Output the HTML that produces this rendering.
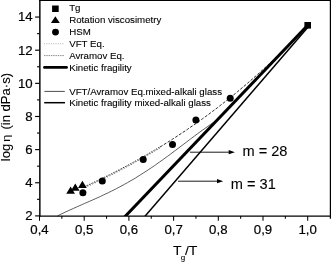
<!DOCTYPE html><html><head><meta charset="utf-8"><style>html,body{margin:0;padding:0;background:#fff;overflow:hidden}svg{display:block}</style></head><body><svg width="331" height="262" viewBox="0 0 331 262" font-family="'Liberation Sans', Arial, sans-serif" fill="#000" >
<rect width="331" height="262" fill="#fff"/>
<polyline points="57.6,215.9 60.3,214.5 63.0,213.2 65.7,211.9 68.3,210.7 71.0,209.5 73.7,208.3 76.4,207.1 79.1,205.9 81.8,204.7 84.4,203.5 87.1,202.4 89.8,201.2 92.5,200.0 95.2,198.8 97.9,197.6 100.6,196.4 103.2,195.1 105.9,193.8 108.6,192.6 111.3,191.2 114.0,189.9 116.7,188.5 119.3,187.1 122.0,185.7 124.7,184.2 127.4,182.7 130.1,181.1 132.8,179.6 135.5,178.0 138.1,176.3 140.8,174.6 143.5,172.9 146.2,171.2 148.9,169.4 151.6,167.6 154.3,165.8 156.9,163.9 159.6,162.0 162.3,160.1 165.0,158.1 167.7,156.2 170.4,154.2 173.0,152.2 175.7,150.2 178.4,148.2 181.1,146.1 183.8,144.1 186.5,142.1 189.2,140.0 191.8,138.0 194.5,136.0 197.2,134.0 199.9,132.0 202.6,130.1 205.3,128.2 207.9,126.3 210.6,124.4 213.3,122.6 216.0,120.9" fill="none" stroke="#333" stroke-width="0.8"/>
<polyline points="84.0,186.9 85.9,186.0 87.9,185.1 89.8,184.2 91.8,183.3 93.7,182.4 95.7,181.5 97.6,180.5 99.6,179.6 101.5,178.7 103.5,177.7 105.4,176.8 107.4,175.8 109.3,174.8 111.3,173.9 113.2,172.9 115.2,171.9 117.1,170.9 119.1,169.9 121.0,168.9 123.0,167.8 124.9,166.8 126.9,165.8 128.8,164.7 130.8,163.7 132.7,162.6 134.7,161.5 136.6,160.4 138.6,159.4 140.5,158.3 142.5,157.2 144.4,156.0 146.4,154.9 148.3,153.8 150.3,152.7 152.2,151.5 154.2,150.3 156.1,149.2 158.1,148.0 160.0,146.8" fill="none" stroke="#222" stroke-width="0.95" stroke-dasharray="1.5 1.2"/>
<polyline points="84.0,188.0 85.9,187.1 87.9,186.2 89.8,185.3 91.8,184.4 93.7,183.5 95.7,182.6 97.6,181.6 99.6,180.7 101.5,179.8 103.5,178.8 105.4,177.9 107.4,176.9 109.3,175.9 111.3,175.0 113.2,174.0 115.2,173.0 117.1,172.0 119.1,171.0 121.0,170.0 123.0,168.9 124.9,167.9 126.9,166.9 128.8,165.8 130.8,164.8 132.7,163.7 134.7,162.6 136.6,161.5 138.6,160.5 140.5,159.4 142.5,158.3 144.4,157.1 146.4,156.0 148.3,154.9 150.3,153.8 152.2,152.6 154.2,151.4 156.1,150.3 158.1,149.1 160.0,147.9" fill="none" stroke="#555" stroke-width="0.95" stroke-dasharray="1.1 1.6" stroke-dashoffset="1.5"/>
<polyline points="160.0,147.0 162.5,145.5 165.0,143.9 167.5,142.4 170.0,140.8 172.5,139.2 175.0,137.6 177.5,135.9 180.0,134.3 182.5,132.6 185.0,131.0 187.5,129.3 190.0,127.5 192.5,125.8 195.0,124.1 197.6,122.3 200.1,120.5 202.6,118.7 205.1,116.9 207.6,115.1 210.1,113.2 212.6,111.3 215.1,109.5 217.6,107.6 220.1,105.6 222.6,103.7 225.1,101.7 227.6,99.7 230.1,97.7 232.6,95.7 235.1,93.7 237.6,91.6 240.1,89.5 242.6,87.4 245.1,85.3 247.6,83.2 250.1,81.0 252.6,78.8 255.1,76.6 257.6,74.4 260.1,72.2 262.6,69.9 265.1,67.6 267.6,65.3 270.1,63.0 272.7,60.6 275.2,58.2 277.7,55.8 280.2,53.4 282.7,51.0 285.2,48.5 287.7,46.0 290.2,43.5 292.7,41.0 295.2,38.5 297.7,35.9 300.2,33.3 302.7,30.7 305.2,28.0 307.7,25.3" fill="none" stroke="#222" stroke-width="0.95" stroke-dasharray="2.9 1.6"/>
<clipPath id="cp"><rect x="39.5" y="0" width="291" height="216"/></clipPath>
<g clip-path="url(#cp)">
<line x1="117.44" y1="224.49" x2="307.7" y2="25.3" stroke="#000" stroke-width="3.0"/>
<line x1="136.98" y1="225.53" x2="309.6" y2="25.3" stroke="#000" stroke-width="1.5"/>
</g>
<g stroke="#000" fill="none">
<line x1="39.85" y1="0" x2="39.85" y2="216.75" stroke-width="1.45"/>
<line x1="39.1" y1="216.0" x2="331" y2="216.0" stroke-width="1.25"/>
<line x1="39.1" y1="0.5" x2="331" y2="0.5" stroke-width="1.0"/>
<line x1="330.4" y1="0" x2="330.4" y2="218.8" stroke-width="1.2"/>
<line x1="35.1" y1="215.90" x2="39.5" y2="215.90" stroke-width="1.15"/>
<line x1="37.1" y1="199.33" x2="39.5" y2="199.33" stroke-width="1.15"/>
<line x1="35.1" y1="182.76" x2="39.5" y2="182.76" stroke-width="1.15"/>
<line x1="37.1" y1="166.19" x2="39.5" y2="166.19" stroke-width="1.15"/>
<line x1="35.1" y1="149.62" x2="39.5" y2="149.62" stroke-width="1.15"/>
<line x1="37.1" y1="133.05" x2="39.5" y2="133.05" stroke-width="1.15"/>
<line x1="35.1" y1="116.48" x2="39.5" y2="116.48" stroke-width="1.15"/>
<line x1="37.1" y1="99.91" x2="39.5" y2="99.91" stroke-width="1.15"/>
<line x1="35.1" y1="83.34" x2="39.5" y2="83.34" stroke-width="1.15"/>
<line x1="37.1" y1="66.77" x2="39.5" y2="66.77" stroke-width="1.15"/>
<line x1="35.1" y1="50.20" x2="39.5" y2="50.20" stroke-width="1.15"/>
<line x1="37.1" y1="33.63" x2="39.5" y2="33.63" stroke-width="1.15"/>
<line x1="35.1" y1="17.06" x2="39.5" y2="17.06" stroke-width="1.15"/>
<line x1="39.50" y1="216" x2="39.50" y2="220.8" stroke-width="1.05"/>
<line x1="61.85" y1="216" x2="61.85" y2="218.8" stroke-width="1.05"/>
<line x1="84.20" y1="216" x2="84.20" y2="220.8" stroke-width="1.05"/>
<line x1="106.55" y1="216" x2="106.55" y2="218.8" stroke-width="1.05"/>
<line x1="128.90" y1="216" x2="128.90" y2="220.8" stroke-width="1.05"/>
<line x1="151.25" y1="216" x2="151.25" y2="218.8" stroke-width="1.05"/>
<line x1="173.60" y1="216" x2="173.60" y2="220.8" stroke-width="1.05"/>
<line x1="195.95" y1="216" x2="195.95" y2="218.8" stroke-width="1.05"/>
<line x1="218.30" y1="216" x2="218.30" y2="220.8" stroke-width="1.05"/>
<line x1="240.65" y1="216" x2="240.65" y2="218.8" stroke-width="1.05"/>
<line x1="263.00" y1="216" x2="263.00" y2="220.8" stroke-width="1.05"/>
<line x1="285.35" y1="216" x2="285.35" y2="218.8" stroke-width="1.05"/>
<line x1="307.70" y1="216" x2="307.70" y2="220.8" stroke-width="1.05"/>
</g>
<text transform="translate(32.60 220.25) scale(1.09 1)" font-size="12.15" text-anchor="end" stroke="#000" stroke-width="0.18">2</text>
<text transform="translate(32.60 187.11) scale(1.09 1)" font-size="12.15" text-anchor="end" stroke="#000" stroke-width="0.18">4</text>
<text transform="translate(32.60 153.97) scale(1.09 1)" font-size="12.15" text-anchor="end" stroke="#000" stroke-width="0.18">6</text>
<text transform="translate(32.60 120.83) scale(1.09 1)" font-size="12.15" text-anchor="end" stroke="#000" stroke-width="0.18">8</text>
<text transform="translate(32.60 87.69) scale(1.09 1)" font-size="12.15" text-anchor="end" stroke="#000" stroke-width="0.18">10</text>
<text transform="translate(32.60 54.55) scale(1.09 1)" font-size="12.15" text-anchor="end" stroke="#000" stroke-width="0.18">12</text>
<text transform="translate(32.60 21.41) scale(1.09 1)" font-size="12.15" text-anchor="end" stroke="#000" stroke-width="0.18">14</text>
<text transform="translate(39.50 233.50) scale(1.09 1)" font-size="12.15" text-anchor="middle" stroke="#000" stroke-width="0.18">0,4</text>
<text transform="translate(84.20 233.50) scale(1.09 1)" font-size="12.15" text-anchor="middle" stroke="#000" stroke-width="0.18">0,5</text>
<text transform="translate(128.90 233.50) scale(1.09 1)" font-size="12.15" text-anchor="middle" stroke="#000" stroke-width="0.18">0,6</text>
<text transform="translate(173.60 233.50) scale(1.09 1)" font-size="12.15" text-anchor="middle" stroke="#000" stroke-width="0.18">0,7</text>
<text transform="translate(218.30 233.50) scale(1.09 1)" font-size="12.15" text-anchor="middle" stroke="#000" stroke-width="0.18">0,8</text>
<text transform="translate(263.00 233.50) scale(1.09 1)" font-size="12.15" text-anchor="middle" stroke="#000" stroke-width="0.18">0,9</text>
<text transform="translate(307.70 233.50) scale(1.09 1)" font-size="12.15" text-anchor="middle" stroke="#000" stroke-width="0.18">1,0</text>
<text transform="translate(69.20 11.30) scale(1.021 1)" font-size="9.5" text-anchor="start" stroke="#000" stroke-width="0.1">Tg</text>
<text transform="translate(69.20 23.20) scale(1.021 1)" font-size="9.5" text-anchor="start" stroke="#000" stroke-width="0.1">Rotation viscosimetry</text>
<text transform="translate(69.20 35.10) scale(1.021 1)" font-size="9.5" text-anchor="start" stroke="#000" stroke-width="0.1">HSM</text>
<text transform="translate(69.20 47.00) scale(1.021 1)" font-size="9.5" text-anchor="start" stroke="#000" stroke-width="0.1">VFT Eq.</text>
<text transform="translate(69.20 58.90) scale(1.021 1)" font-size="9.5" text-anchor="start" stroke="#000" stroke-width="0.1">Avramov Eq.</text>
<text transform="translate(69.20 70.70) scale(1.021 1)" font-size="9.5" text-anchor="start" stroke="#000" stroke-width="0.1">Kinetic fragility</text>
<text transform="translate(69.20 94.50) scale(1.021 1)" font-size="9.5" text-anchor="start" stroke="#000" stroke-width="0.1">VFT/Avramov Eq.mixed-alkali glass</text>
<text transform="translate(69.20 106.30) scale(1.021 1)" font-size="9.5" text-anchor="start" stroke="#000" stroke-width="0.1">Kinetic fragility mixed-alkali glass</text>
<rect x="52.1" y="5.5" width="6.6" height="6.5"/>
<polygon points="55.35,16.3 59.8,22.9 50.9,22.9"/>
<circle cx="55.5" cy="32.1" r="3.45"/>
<line x1="44" y1="43.7" x2="64.7" y2="43.7" stroke="#aaa" stroke-width="0.9" stroke-dasharray="1 1.3"/>
<line x1="44" y1="55.6" x2="64.7" y2="55.6" stroke="#777" stroke-width="0.9" stroke-dasharray="1.4 0.9"/>
<line x1="44.5" y1="67.4" x2="66.5" y2="67.4" stroke="#000" stroke-width="2.8" stroke-linecap="round"/>
<line x1="44.4" y1="91.4" x2="64.8" y2="91.4" stroke="#111" stroke-width="0.75"/>
<line x1="44.2" y1="102.7" x2="65" y2="102.7" stroke="#000" stroke-width="1.5"/>
<polygon points="70.6,186.6 74.95,193.79999999999998 66.25,193.79999999999998"/>
<polygon points="75.3,183.5 79.65,190.7 70.95,190.7"/>
<polygon points="82.4,180.7 86.75,187.89999999999998 78.05,187.89999999999998"/>
<circle cx="82.9" cy="192.8" r="3.5"/>
<circle cx="102.3" cy="181.1" r="3.5"/>
<circle cx="143.2" cy="159.5" r="3.5"/>
<circle cx="172.5" cy="144.5" r="3.5"/>
<circle cx="195.9" cy="119.9" r="3.5"/>
<circle cx="230.2" cy="98.3" r="3.5"/>
<rect x="304.4" y="22" width="6.6" height="6.6"/>
<line x1="190" y1="152.2" x2="231.9" y2="152.2" stroke="#000" stroke-width="0.9"/>
<polygon points="234.9,152.2 228.70000000000002,150.1 228.70000000000002,154.29999999999998"/>
<line x1="178" y1="181.2" x2="220.2" y2="181.2" stroke="#000" stroke-width="0.9"/>
<polygon points="223.2,181.2 217.0,179.1 217.0,183.29999999999998"/>
<text transform="translate(242.50 156.10) scale(1.058 1)" font-size="13.8" text-anchor="start" stroke="#000" stroke-width="0.08">m = 28</text>
<text transform="translate(230.80 189.10) scale(1.058 1)" font-size="13.8" text-anchor="start" stroke="#000" stroke-width="0.08">m = 31</text>
<text transform="translate(173 255.2) scale(1.05 1)" font-size="13.4" stroke="#000" stroke-width="0.1">T</text>
<text transform="translate(180.7 260.3) scale(1.0 1)" font-size="8" stroke="#000" stroke-width="0.1">g</text>
<text transform="translate(184.9 255.2) scale(1.05 1)" font-size="13.4" stroke="#000" stroke-width="0.1">/T</text>
<text transform="translate(9.7 161.2) rotate(-90) scale(0.975 1)" font-size="13.3" stroke="#000" stroke-width="0.1">log</text>
<text transform="translate(9.7 141.9) rotate(-90) scale(1.15 1)" font-size="11.6" stroke="#000" stroke-width="0.05">η</text>
<text transform="translate(9.7 129.6) rotate(-90) scale(0.985 1)" font-size="13.3" stroke="#000" stroke-width="0.1">(in dPa·s)</text>
</svg></body></html>
